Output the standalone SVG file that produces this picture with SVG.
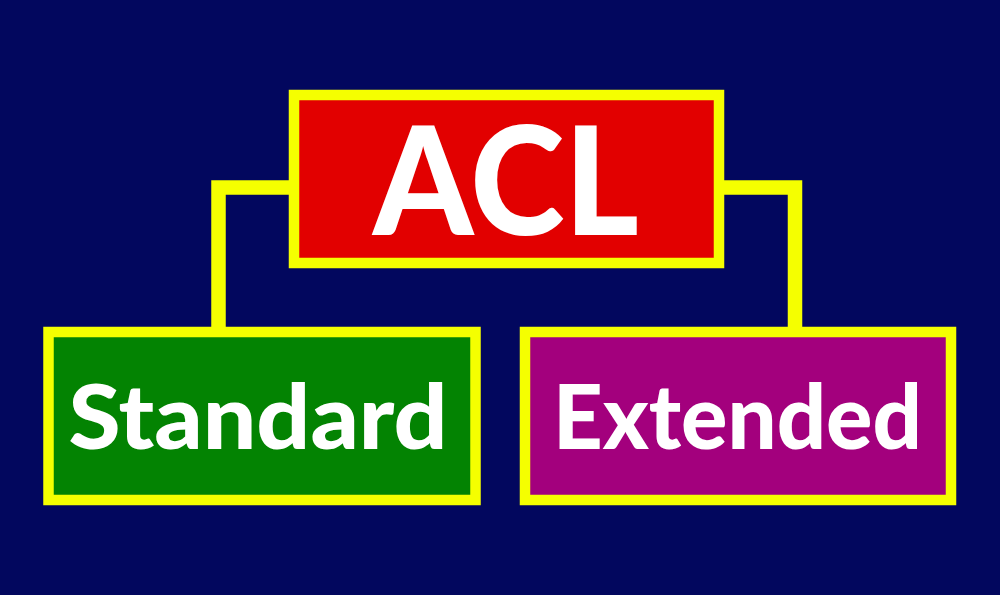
<svg xmlns="http://www.w3.org/2000/svg" width="1000" height="595" viewBox="0 0 1000 595">
  <style>
    .box { stroke: #f5ff00; stroke-width: 10.5; }
    .conn { fill: none; stroke: #f5ff00; stroke-width: 14.5; stroke-linejoin: miter; stroke-linecap: butt; }
    .lbl { fill: #ffffff; font-family: Lato, "Open Sans", "Liberation Sans", sans-serif; font-weight: 900; text-anchor: middle; }
  </style>
  <rect x="0" y="0" width="1000" height="595" fill="#02075e"/>
  <g id="connectors">
    <path class="conn" d="M290 187.5 H218.5 V328"/>
    <path class="conn" d="M723 187.5 H795 V328"/>
  </g>
  <g id="node-acl">
    <rect class="box" x="294" y="95" width="425" height="168" fill="#e20000"/>
    <text class="lbl" x="506" y="235" font-size="150" textLength="266" lengthAdjust="spacingAndGlyphs">ACL</text>
  </g>
  <g id="node-standard">
    <rect class="box" x="48.5" y="332" width="427" height="168" fill="#038302"/>
    <text class="lbl" x="258" y="449" font-size="90" textLength="379" lengthAdjust="spacingAndGlyphs">Standard</text>
  </g>
  <g id="node-extended">
    <rect class="box" x="525" y="332" width="426" height="168" fill="#a3007d"/>
    <text class="lbl" x="737.5" y="449" font-size="90" textLength="369" lengthAdjust="spacingAndGlyphs">Extended</text>
  </g>
</svg>
